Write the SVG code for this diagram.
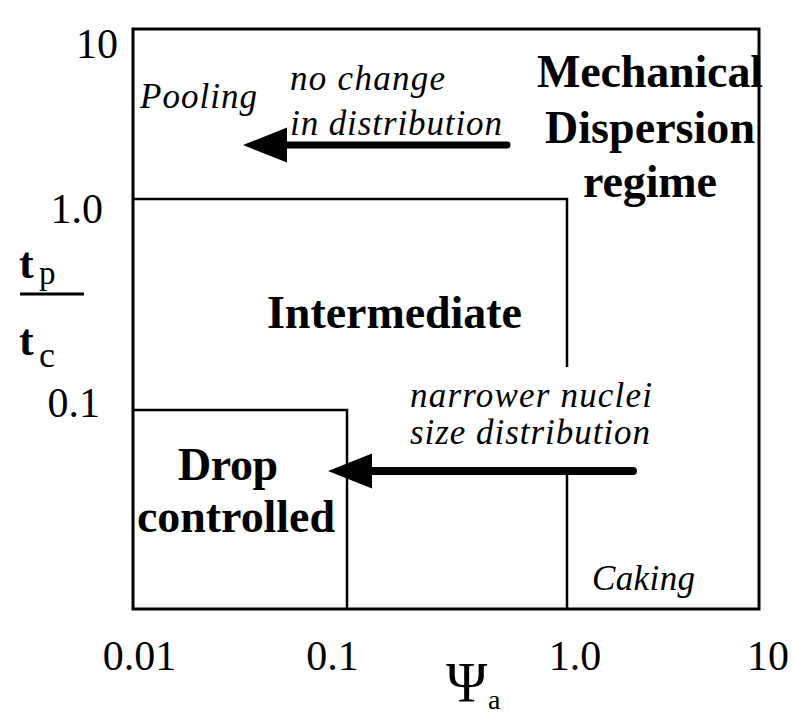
<svg xmlns="http://www.w3.org/2000/svg" width="797" height="714" viewBox="0 0 797 714">
<style>
.ax{font-family:"Liberation Serif","Times New Roman",serif;font-size:42px;fill:#000}
.it{font-family:"Liberation Serif","Times New Roman",serif;font-style:italic;font-size:35px;fill:#000}
.bd{font-family:"Liberation Serif","Times New Roman",serif;font-weight:bold;font-size:46px;fill:#000;text-anchor:middle}
.sym{font-family:"Liberation Serif","Times New Roman",serif;fill:#000}
.frame{fill:none;stroke:#000;stroke-width:3}
.bnd{fill:none;stroke:#000;stroke-width:2.5}
.arr{stroke:#000;stroke-linecap:round;fill:none}
</style>
<defs>
<marker id="head" markerUnits="userSpaceOnUse" markerWidth="46" markerHeight="36" refX="0" refY="17.5" orient="auto">
<path d="M0,0 L44,17.5 L0,35 Z" fill="#000"/>
</marker>
</defs>
<rect x="0" y="0" width="797" height="714" fill="#fff"/>
<g id="plot-frame"><rect class="frame" x="133" y="29" width="626" height="580"/></g>
<g id="boundaries">
<path class="bnd" d="M133,199 H567 V367"/>
<path class="bnd" d="M567,471 V609"/>
<path class="bnd" d="M133,410 H347 V609"/>
</g>
<g id="y-axis">
<text class="ax" x="118" y="58" text-anchor="end">10</text>
<text class="ax" x="103" y="223" text-anchor="end">1.0</text>
<text class="ax" x="100" y="417" text-anchor="end">0.1</text>
<text class="sym" x="19" y="278" font-weight="bold" font-size="44">t</text>
<text class="sym" x="39" y="284" font-size="33">p</text>
<line x1="20" y1="294" x2="84" y2="294" stroke="#000" stroke-width="3"/>
<text class="sym" x="19" y="355" font-weight="bold" font-size="44">t</text>
<text class="sym" x="39" y="367" font-size="36">c</text>
</g>
<g id="x-axis">
<text class="ax" x="139.5" y="670" text-anchor="middle">0.01</text>
<text class="ax" x="332.5" y="670" text-anchor="middle">0.1</text>
<text class="ax" x="575" y="670" text-anchor="middle">1.0</text>
<text class="ax" x="768" y="670" text-anchor="middle">10</text>
<text class="sym" x="446" y="702" font-size="56">Ψ</text>
<text class="sym" x="488" y="709" font-size="28">a</text>
</g>
<g id="pooling"><text class="it" x="140" y="108" textLength="117">Pooling</text></g>
<g id="mechanical-dispersion">
<text class="bd" x="650" y="87" textLength="226">Mechanical</text>
<text class="bd" x="650" y="143" textLength="210">Dispersion</text>
<text class="bd" x="650" y="197" textLength="134">regime</text>
</g>
<g id="intermediate"><text class="bd" x="394.5" y="328" textLength="255">Intermediate</text></g>
<g id="drop-controlled">
<text class="bd" x="228" y="480" textLength="100">Drop</text>
<text class="bd" x="236" y="532" textLength="198">controlled</text>
</g>
<g id="caking"><text class="it" x="592" y="590" textLength="103">Caking</text></g>
<g id="labels">
<text class="it" x="290" y="90" textLength="155">no change</text>
<text class="it" x="290" y="135" textLength="212">in distribution</text>
<text class="it" x="410" y="407" textLength="242">narrower nuclei</text>
<text class="it" x="410" y="444" textLength="240">size distribution</text>
</g>
<g id="connectors">
<line class="arr" x1="507" y1="145" x2="287" y2="145" stroke-width="7" marker-end="url(#head)"/>
<line class="arr" x1="633" y1="471" x2="372" y2="471" stroke-width="8" marker-end="url(#head)"/>
</g>
</svg>
